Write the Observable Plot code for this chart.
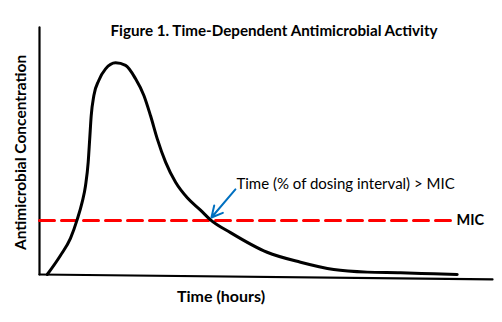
<!DOCTYPE html>
<html>
<head>
<meta charset="utf-8">
<script src="https://cdn.jsdelivr.net/npm/d3@7"></script>
<script src="https://cdn.jsdelivr.net/npm/@observablehq/plot@0.6"></script>
<style>
  html, body { margin: 0; padding: 0; background: #fff; }
  #chart { width: 502px; height: 322px; }
</style>
</head>
<body>
<div id="chart"></div>
<script>
// Concentration-time curve (hours, concentration units)
const hours = [0.41, 1.11, 1.64, 2.00, 2.26, 2.44, 2.58, 2.66, 2.74, 2.88, 3.14, 3.50, 4.03, 4.56, 5.09, 5.53, 5.88, 6.24, 6.68, 7.21, 7.83, 8.53, 9.06, 10.12, 12.06, 13.83, 15.59, 17.36, 19.13, 20.89, 22.13];
const conc  = [0.0, 8.8, 16.7, 25.5, 33.5, 41.2, 52.0, 62.8, 73.6, 82.9, 89.8, 95.2, 98.0, 96.8, 90.6, 82.9, 73.6, 62.8, 52.0, 42.7, 35.5, 29.8, 25.3, 19.4, 10.3, 5.7, 2.3, 1.1, 0.8, 0.3, 0.0];

// Minimum inhibitory concentration
const MIC = 25;
const micHours = [0, 21.83];
const micLabel = "MIC";

// Hand-drawn axes
const yAxisHours = [0, 0];
const yAxisConc = [0, 114.4];
const xAxisHours = [0, 24];
const xAxisConc = [0, -2.3];

// Annotation arrow (tail -> tip)
const arrowFrom = [10.38, 39.4];
const arrowTo = [9.11, 26.4];
const annotationText = "Time (% of dosing interval) > MIC";

// Texts
const titleText = "Figure 1. Time-Dependent Antimicrobial Activity";
const xLabelText = "Time (hours)";
const yLabelText = "Antimicrobial Concentration";

const curve = hours.map((h, i) => ({h, c: conc[i]}));
const micLine = micHours.map(h => ({h, c: MIC}));
const yAxisLine = yAxisHours.map((h, i) => ({h, c: yAxisConc[i]}));
const xAxisLine = xAxisHours.map((h, i) => ({h, c: xAxisConc[i]}));

const FONT = "Lato, 'Open Sans', sans-serif";

const chart = Plot.plot({
  width: 502,
  height: 322,
  margin: 0,
  style: {fontFamily: FONT, background: "#fff", overflow: "visible"},
  x: {domain: [0, 24], range: [39, 492], axis: null},
  y: {domain: [0, 100], range: [274, 58], axis: null},
  marks: [
    Plot.line(yAxisLine, {x: "h", y: "c", stroke: "#000", strokeWidth: 2.2}),
    Plot.line(xAxisLine, {x: "h", y: "c", stroke: "#000", strokeWidth: 2.2}),
    Plot.line(micLine, {x: "h", y: "c", stroke: "#ff0000", strokeWidth: 3, strokeDasharray: "15,7"}),
    Plot.line(curve, {x: "h", y: "c", stroke: "#000", strokeWidth: 3, curve: "monotone-x", strokeLinecap: "round"}),
    Plot.arrow([{x1: arrowFrom[0], y1: arrowFrom[1], x2: arrowTo[0], y2: arrowTo[1]}], {
      x1: "x1", y1: "y1", x2: "x2", y2: "y2", stroke: "#0070C0", strokeWidth: 2, headLength: 11, headAngle: 55
    }),
    Plot.text([annotationText], {
      x: arrowFrom[0], y: arrowFrom[1], text: d => d, textAnchor: "start", lineAnchor: "bottom",
      dx: 1, dy: 0, fontSize: 15, fill: "#000", fontFamily: FONT
    }),
    Plot.text([micLabel], {
      x: micHours[1], y: MIC, text: d => d, textAnchor: "start", lineAnchor: "middle",
      dx: 5, dy: 0, fontSize: 14.5, fontWeight: "bold", fill: "#000", fontFamily: FONT
    }),
    Plot.text([titleText], {
      frameAnchor: "top", text: d => d, dx: 22.5, dy: 35, lineAnchor: "bottom",
      fontSize: 15.2, fontWeight: "bold", fill: "#000", fontFamily: FONT
    }),
    Plot.text([xLabelText], {
      frameAnchor: "top", text: d => d, dx: -30.5, dy: 301, lineAnchor: "bottom",
      fontSize: 16, fontWeight: "bold", fill: "#000", fontFamily: FONT
    }),
    Plot.text([yLabelText], {
      frameAnchor: "left", text: d => d, rotate: -90, dx: 25, dy: -9, lineAnchor: "bottom", textAnchor: "middle",
      fontSize: 15.5, fontWeight: "bold", fill: "#000", fontFamily: FONT
    })
  ]
});
document.getElementById("chart").appendChild(chart);
</script>
</body>
</html>
